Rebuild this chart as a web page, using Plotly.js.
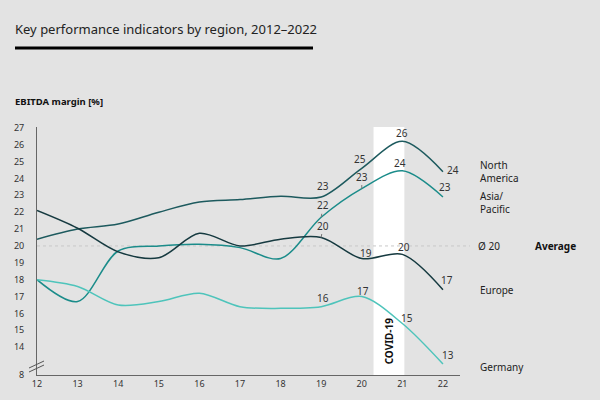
<!DOCTYPE html>
<html><head><meta charset="utf-8">
<script src="https://cdn.plot.ly/plotly-3.0.1.min.js"></script>
<style>html,body{margin:0;padding:0;background:#e3e3e3;}#c{width:600px;height:400px;}</style>
</head><body><div id="c"></div>
<script>
const years = [2012,2013,2014,2015,2016,2017,2018,2019,2020,2021,2022];
const northAmerica = [20.4,21.0,21.3,22.0,22.6,22.75,22.95,22.9,24.6,26.2,24.4];
const asiaPacific  = [18.0,16.7,19.7,20.0,20.1,19.9,19.25,21.7,23.4,24.45,22.9];
const europe       = [22.1,21.05,19.65,19.3,20.75,20.0,20.4,20.5,19.25,19.5,17.4];
const germany      = [18.0,17.6,16.5,16.7,17.2,16.4,16.3,16.4,17.0,15.4,13.0];
const seriesNames  = ['North America','Asia/Pacific','Europe','Germany'];
const legendLabels = ['North<br>America','Asia/<br>Pacific','Europe','Germany'];
const colors = ['#1d5a5e','#1b8c8a','#163a40','#4ec4bb'];
const tickVals = [12.35,14,15,16,17,18,19,20,21,22,23,24,25,26,27];
const tickText = ['8','14','15','16','17','18','19','20','21','22','23','24','25','26','27'];
const xTickText = ['12','13','14','15','16','17','18','19','20','21','22'];
// value labels: [series index, year index, text, dx(px), dy(px, down positive), tick]
const valueLabels = [
 [0,7,'23',2,-11,false],[0,8,'25',-2,-9,false],[0,9,'26',0,-8,false],[0,10,'24',10,-2,false],
 [1,7,'22',2,-12,true],[1,8,'23',0,-12,true],[1,9,'24',-2,-8,false],[1,10,'23',2,-10,false],
 [2,7,'20',2,-12,true],[2,8,'19',4,-6,false],[2,9,'20',2,-7,false],[2,10,'17',4,-10,false],
 [3,7,'16',2,-9,false],[3,8,'17',1,-6,false],[3,9,'15',5,-6,false],[3,10,'13',5,-9,false]
];
const legendY = [24.44,22.57,17.4,12.83];
const covid = [2020.29,2021.05];
const covidLabelY = 14.4;
const averageValue = 20;

const allSeries = [northAmerica,asiaPacific,europe,germany];
const traces = allSeries.map((s,i)=>({
  x: years, y: s, type:'scatter', mode:'lines', name: seriesNames[i],
  line:{color:colors[i], width:1.5, shape:'spline', smoothing:0.9},
  hoverinfo:'skip'
}));

const font = "'Noto Sans', sans-serif";
const lf = {family:font,size:10,color:'#333'};
const annotations = [];
valueLabels.forEach(l=>{
  const base = {x: years[l[1]], y: allSeries[l[0]][l[1]], xref:'x', yref:'y', text:l[2], font:lf};
  if (l[5]) {
    annotations.push(Object.assign(base, {showarrow:true, arrowhead:0, arrowwidth:1, arrowcolor:'#777', ax:l[3], ay:l[4], standoff:0}));
  } else {
    annotations.push(Object.assign(base, {showarrow:false, xshift:l[3], yshift:-l[4]}));
  }
});
const px = v => (v-37)/423;
const py = v => (375-v)/248;
legendLabels.forEach((t,i)=>{
  annotations.push({x:px(478), y:legendY[i], xref:'paper', yref:'y', text:t, showarrow:false,
    xanchor:'left', align:'left', font:{family:font,size:10,color:'#222'}});
});
annotations.push({x:px(476), y:averageValue, xref:'paper', yref:'y', text:'Ø 20', showarrow:false, xanchor:'left', font:{family:font,size:10,color:'#222'}});
annotations.push({x:px(533), y:averageValue, xref:'paper', yref:'y', text:'<b>Average</b>', showarrow:false, xanchor:'left', font:{family:font,size:10,color:'#111'}});
annotations.push({x:(covid[0]+covid[1])/2, y:covidLabelY, xref:'x', yref:'y', text:'<b>COVID-19</b>', showarrow:false, textangle:-90, font:{family:font,size:10,color:'#111'}});
annotations.push({x:px(13), y:py(29), xref:'paper', yref:'paper', text:'Key performance indicators by region, 2012–2022', showarrow:false, xanchor:'left', yanchor:'middle', font:{family:font,size:13,color:'#222'}});
annotations.push({x:px(13), y:py(101), xref:'paper', yref:'paper', text:'<b>EBITDA margin [%]</b>', showarrow:false, xanchor:'left', yanchor:'middle', font:{family:font,size:9.5,color:'#111'}});

const shapes = [
  {type:'rect', xref:'x', yref:'paper', x0:covid[0], x1:covid[1], y0:0, y1:1, fillcolor:'#ffffff', line:{width:0}, layer:'below'},
  {type:'line', xref:'paper', yref:'y', x0:0, x1:px(470), y0:averageValue, y1:averageValue, line:{color:'#c8c8c8', width:1, dash:'dot'}, layer:'below'},
  {type:'line', xref:'paper', yref:'paper', x0:px(15), x1:px(313), y0:py(48), y1:py(48), line:{color:'#000', width:3}},
  {type:'line', xref:'paper', yref:'paper', x0:px(29), x1:px(44), y0:py(372), y1:py(365), line:{color:'#555', width:1}},
  {type:'line', xref:'paper', yref:'paper', x0:px(29), x1:px(44), y0:py(368), y1:py(361), line:{color:'#555', width:1}}
];

const layout = {
  width:600, height:400,
  paper_bgcolor:'#e3e3e3', plot_bgcolor:'#e3e3e3',
  margin:{l:37, r:140, t:127, b:25, pad:0},
  showlegend:false,
  font:{family:font, size:9, color:'#333'},
  xaxis:{range:[2012,2022.42], tickvals:years, ticktext:xTickText, showgrid:false, zeroline:false,
    showline:true, linecolor:'#666', linewidth:1, ticks:'', tickfont:{family:font,size:9,color:'#333'}, fixedrange:true},
  yaxis:{range:[12.35,27.05], tickvals:tickVals, ticktext:tickText, showgrid:false, zeroline:false,
    showline:true, linecolor:'#666', linewidth:1, ticks:'', ticklabelstandoff:10, tickfont:{family:font,size:9,color:'#333'}, fixedrange:true},
  annotations: annotations,
  shapes: shapes
};
Plotly.newPlot('c', traces, layout, {staticPlot:true, displayModeBar:false});
</script></body></html>
